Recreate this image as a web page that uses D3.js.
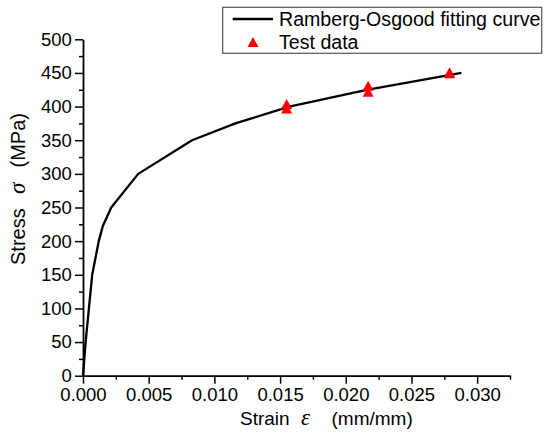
<!DOCTYPE html>
<html>
<head>
<meta charset="utf-8">
<script src="https://cdn.jsdelivr.net/npm/d3@7"></script>
<style>
  html, body { margin: 0; padding: 0; background: #fff; }
  svg { display: block; }
  text { font-family: "Liberation Sans", Arial, sans-serif; fill: #000; }
</style>
</head>
<body>
<svg id="chart" width="550" height="442"></svg>
<script>
// Ramberg-Osgood fitting curve (strain mm/mm, stress MPa)
const curveStrain = [0, 0.0002, 0.00045, 0.0007, 0.0012, 0.0015, 0.00215, 0.0042, 0.0083, 0.0116, 0.0157, 0.0216, 0.0288];
const curveStress = [0, 50, 100, 150, 200, 222, 250, 300, 350, 375, 400, 425, 450];
// Test data
const testStrain = [0.0155, 0.0155, 0.0217, 0.0217, 0.0279, 0.0279];
const testStress = [404, 397, 431, 422, 451, 449.5];
// Axes
const xTicks = [0, 0.005, 0.010, 0.015, 0.020, 0.025, 0.030];
const xMinor = [0.0025, 0.0075, 0.0125, 0.0175, 0.0225, 0.0275, 0.0325];
const yTicks = [0, 50, 100, 150, 200, 250, 300, 350, 400, 450, 500];
const yMinor = [25, 75, 125, 175, 225, 275, 325, 375, 425, 475];
const legendLabels = ["Ramberg-Osgood fitting curve", "Test data"];

const svg = d3.select("#chart");
const x = d3.scaleLinear().domain([0, 0.0325]).range([83, 510]);
const y = d3.scaleLinear().domain([0, 500]).range([375.7, 39.3]);

const fs = 18.5;
// x axis
const gx = svg.append("g").attr("transform", `translate(0,${y(0)})`);
gx.call(d3.axisBottom(x).tickValues(xTicks).tickSize(8).tickPadding(4.3)
  .tickFormat(d3.format(".3f")).tickSizeOuter(0));
gx.append("g").call(d3.axisBottom(x).tickValues(xMinor).tickSize(4).tickFormat("").tickSizeOuter(0))
  .select(".domain").remove();
// y axis
const gy = svg.append("g").attr("transform", `translate(${x(0)},0)`);
gy.call(d3.axisLeft(y).tickValues(yTicks).tickSize(8).tickPadding(3.2)
  .tickFormat(d3.format("d")).tickSizeOuter(0));
gy.append("g").call(d3.axisLeft(y).tickValues(yMinor).tickSize(4).tickFormat("").tickSizeOuter(0))
  .select(".domain").remove();

svg.selectAll(".domain").attr("stroke", "#000").attr("stroke-width", 1.8);
svg.selectAll(".tick line").attr("stroke", "#000").attr("stroke-width", 1.5);
svg.selectAll(".tick text").attr("font-size", fs).attr("font-family", '"Liberation Sans", Arial, sans-serif').attr("fill", "#000");

// curve
const curveData = curveStrain.map((s, i) => [s, curveStress[i]]);
svg.append("path")
  .datum(curveData)
  .attr("fill", "none")
  .attr("stroke", "#000")
  .attr("stroke-width", 2.3)
  .attr("stroke-linejoin", "round")
  .attr("d", d3.line().x(d => x(d[0])).y(d => y(d[1])));

// triangles
const tri = "M0,-5 L5.5,5 L-5.5,5 Z";
const testData = testStrain.map((s, i) => [s, testStress[i]]);
svg.append("g").selectAll("path")
  .data(testData).join("path")
  .attr("d", tri)
  .attr("fill", "#ff0000")
  .attr("transform", d => `translate(${x(d[0])},${y(d[1])})`);

// axis titles
const serif = '"Liberation Serif", "Times New Roman", serif';
const xt = svg.append("text").attr("y", 425).attr("font-size", 19);
xt.append("tspan").attr("x", 240).text("Strain");
xt.append("tspan").attr("x", 301).attr("font-family", serif)
  .attr("font-style", "italic").attr("font-size", 23).text("ε");
xt.append("tspan").attr("x", 331.5).text("(mm/mm)");

const yt = svg.append("text").attr("transform", "rotate(-90)").attr("y", 25).attr("font-size", 20);
yt.append("tspan").attr("x", -265).text("Stress");
yt.append("tspan").attr("x", -194).attr("font-family", serif)
  .attr("font-style", "italic").attr("font-size", 23).text("σ");
yt.append("tspan").attr("x", -167.5).text("(MPa)");

// legend
const lg = svg.append("g");
lg.append("rect").attr("x", 222.7).attr("y", 7.3).attr("width", 319).attr("height", 46)
  .attr("fill", "#fff").attr("stroke", "#555").attr("stroke-width", 1.2);
lg.append("line").attr("x1", 232.7).attr("x2", 273).attr("y1", 19).attr("y2", 19)
  .attr("stroke", "#000").attr("stroke-width", 2.3);
lg.append("path").attr("d", tri).attr("fill", "#ff0000").attr("transform", "translate(253,42)");
lg.selectAll("text.lab").data(legendLabels).join("text").attr("class", "lab")
  .attr("x", 279).attr("y", (d, i) => 26 + i * 23).attr("font-size", 19.6).text(d => d);
</script>
</body>
</html>
